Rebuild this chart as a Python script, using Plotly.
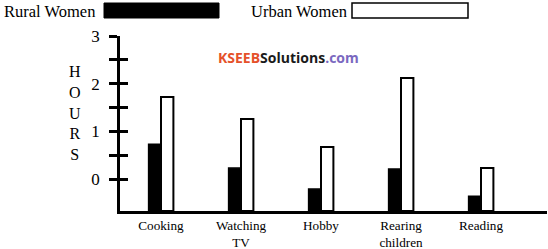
import plotly.graph_objects as go

categories = ["Cooking", "Watching<br>TV", "Hobby", "Rearing<br>children", "Reading"]
rural = [0.73, 0.23, -0.21, 0.21, -0.36]
urban = [1.72, 1.26, 0.67, 2.12, 0.23]
y_ticks = [0, 1, 2, 3]
y_minor = [0.5, 1.5, 2.5]
Y_MIN, Y_MAX = -0.67, 3.0

# pixel geometry of the plot area
L, R, T, B = 120, 547, 36, 211
W, H = 548, 249
def px(x):
    return (x - L) / (R - L)
def py(y):
    return (B - y) / (B - T)

SERIF = "Liberation Serif"
tick_style = dict(ticklen=8, tickwidth=2.5, tickcolor="black")

fig = go.Figure()
fig.add_trace(go.Bar(x=categories, y=[v - Y_MIN for v in rural], base=Y_MIN,
                     marker=dict(color="black", line=dict(color="black", width=1.5)),
                     name="Rural Women", showlegend=False))
fig.add_trace(go.Bar(x=categories, y=[v - Y_MIN for v in urban], base=Y_MIN,
                     marker=dict(color="white", line=dict(color="black", width=2)),
                     name="Urban Women", showlegend=False))
# invisible trace to activate the second (inside-tick) y axis
fig.add_trace(go.Scatter(x=[categories[0]], y=[Y_MIN], yaxis="y2", mode="markers",
                         marker=dict(opacity=0), showlegend=False, hoverinfo="skip"))

fig.update_layout(
    width=W, height=H,
    margin=dict(l=L, r=W - R, t=T, b=H - B),
    plot_bgcolor="white", paper_bgcolor="white",
    barmode="group", bargap=0.69, bargroupgap=0,
    font=dict(family=SERIF, color="black"),
    xaxis=dict(range=[-0.5125, 4.825], showline=True, linecolor="black", linewidth=2.5,
               ticks="", showgrid=False, zeroline=False, automargin=False,
               tickfont=dict(family=SERIF, size=13.2), ticklabelstandoff=0),
    yaxis=dict(range=[Y_MIN, Y_MAX], tickvals=y_ticks, showline=True, linecolor="black",
               linewidth=2.5, ticks="outside", **tick_style, automargin=False,
               minor=dict(tickmode="array", tickvals=y_minor, ticks="outside", **tick_style),
               showgrid=False, zeroline=False, tickfont=dict(family=SERIF, size=17),
               ticklabelstandoff=6),
    yaxis2=dict(range=[Y_MIN, Y_MAX], overlaying="y", side="left", tickvals=y_ticks,
                ticks="inside", **tick_style, automargin=False,
                minor=dict(tickmode="array", tickvals=y_minor, ticks="inside", **tick_style),
                showticklabels=False, showgrid=False, zeroline=False, showline=False),
)

# legend
fig.add_annotation(text="Rural Women", xref="paper", yref="paper", x=px(2), y=py(11),
                   xanchor="left", yanchor="middle", showarrow=False,
                   font=dict(family=SERIF, size=16.5))
fig.add_shape(type="rect", xref="paper", yref="paper", x0=px(104), x1=px(219),
              y0=py(18), y1=py(3), fillcolor="black", line=dict(color="black", width=1))
fig.add_annotation(text="Urban Women", xref="paper", yref="paper", x=px(249), y=py(11),
                   xanchor="left", yanchor="middle", showarrow=False,
                   font=dict(family=SERIF, size=16.5))
fig.add_shape(type="rect", xref="paper", yref="paper", x0=px(352), x1=px(468),
              y0=py(18), y1=py(3), fillcolor="white", line=dict(color="black", width=1.5))

# y axis title, letters stacked
fig.add_annotation(text="H<br>O<br>U<br>R<br>S", xref="paper", yref="paper",
                   x=px(75), y=py(113), xanchor="center", yanchor="middle",
                   showarrow=False, font=dict(family=SERIF, size=16))

# watermark
fig.add_annotation(text="<b><span style='color:#e5512a'>KSEEB</span>"
                        "<span style='color:#1a1a1a'>Solutions</span>"
                        "<span style='color:#7a68c0'>.com</span></b>",
                   xref="paper", yref="paper", x=px(288), y=py(57),
                   xanchor="center", yanchor="middle", showarrow=False,
                   font=dict(family="Open Sans", size=14))

fig.write_html("out.html")
